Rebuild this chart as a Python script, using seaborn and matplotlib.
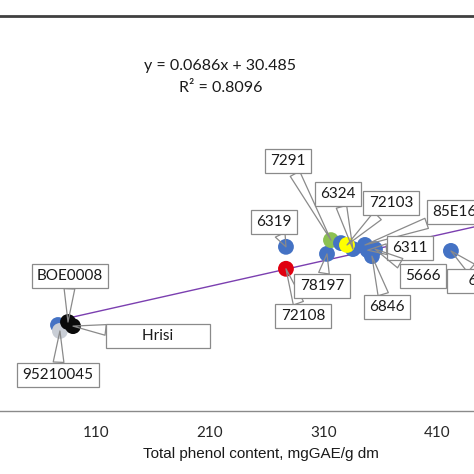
import matplotlib
matplotlib.use("Agg")
import matplotlib.pyplot as plt
import seaborn as sns
import pandas as pd
import numpy as np

# ---- data ----
names = ["", "95210045", "BOE0008", "Hrisi", "6319", "72108", "78197", "7291", "",
         "6324", "72103", "85E164", "6311", "5666", "6846", "6316"]
phenol = [76.6, 78.3, 85.4, 89.8, 277.1, 277.1, 313.2, 316.7, 325.5,
          336.0, 330.8, 346.6, 349.0, 355.4, 352.7, 422.2]
yvals = [34.5, 32.9, 35.3, 34.2, 55.5, 49.6, 53.6, 57.3, 56.5,
         54.9, 56.0, 56.0, 54.6, 54.9, 53.0, 54.4]
groups = ["blue", "grey", "black", "black", "blue", "red", "blue", "green", "blue",
          "blue", "yellow", "blue", "blue", "blue", "blue", "blue"]
slope, intercept = 0.0686, 30.485
r2 = 0.8096
xticks = [110, 210, 310, 410]

palette = {"blue": "#4472C4", "grey": "#C9CED6", "black": "#0A0A0A",
           "red": "#E00010", "green": "#8CC152", "yellow": "#FFFF00"}

# label box centres in figure pixels (x from left, y from top)
label_pos = {
    "95210045": (58, 375), "BOE0008": (70, 276), "Hrisi": (158, 336),
    "6319": (274, 222), "72108": (303, 316), "7291": (288, 161),
    "6324": (338, 194), "72103": (391, 203), "85E164": (459, 212),
    "6311": (410, 248), "5666": (423, 276), "6846": (387, 307),
    "78197": (322, 286), "6316": (486, 281),
}
padded = {"Hrisi": 8, "6316": 4}

df = pd.DataFrame({"name": names, "x": phenol, "y": yvals, "group": groups})

sns.set_style("white")
plt.rcParams["font.family"] = ["Lato", "DejaVu Sans"]

W = H = 474
fig = plt.figure(figsize=(W / 100, H / 100), dpi=100)
ax_bottom, ax_top = 411, 16
ax = fig.add_axes([0, 1 - ax_bottom / H, 1, (ax_bottom - ax_top) / H])

# trendline
lx = np.array([min(phenol), 520])
ax.plot(lx, slope * lx + intercept, color="#7B3FB0", lw=1.0, zorder=1)

sns.scatterplot(data=df, x="x", y="y", hue="group", palette=palette,
                legend=False, s=130, linewidth=0, ax=ax, zorder=2)

for n, xv, yv in zip(names, phenol, yvals):
    if not n:
        continue
    px, py = label_pos[n]
    sp = " " * padded.get(n, 0)
    txt = sp + n + sp
    ax.annotate(txt, xy=(xv, yv), xycoords="data",
                xytext=(px, H - py), textcoords="figure pixels",
                ha="center", va="center", fontsize=11, color="#1a1a1a",
                bbox=dict(boxstyle="square,pad=0.35", fc="white", ec="#8a8a8a", lw=0.9),
                arrowprops=dict(arrowstyle="wedge,tail_width=0.7,shrink_factor=0.5",
                                fc="none", ec="#8a8a8a", lw=0.9,
                                shrinkA=0, shrinkB=0),
                annotation_clip=False, zorder=4)

ax.set_xlim(25.6, 442.5)
ax.set_ylim(11.4, 117.5)
ax.set_xticks(xticks)
ax.set_xticklabels([str(t) for t in xticks])
ax.set_yticks([])
ax.tick_params(axis="x", direction="out", length=3, width=0.8, color="#8a8a8a",
               pad=8, labelsize=11, labelcolor="#262626")
for s in ["left", "right"]:
    ax.spines[s].set_visible(False)
ax.spines["top"].set_color("#404040")
ax.spines["top"].set_linewidth(2.0)
ax.spines["bottom"].set_color("#8a8a8a")
ax.spines["bottom"].set_linewidth(1.0)
ax.set_ylabel("")
ax.set_xlabel("")
ax.text(261 / W, (ax_bottom - 454) / (ax_bottom - ax_top),
        "Total phenol content, mgGAE/g dm", transform=ax.transAxes,
        ha="center", va="center", fontsize=11, family=["Liberation Sans", "DejaVu Sans"],
        color="#1a1a1a")

ax.text(220 / W, (ax_bottom - 66) / (ax_bottom - ax_top),
        f"y = {slope}x + {intercept}", transform=ax.transAxes,
        ha="center", va="center", fontsize=11.5, color="#1a1a1a")
ax.text(221 / W, (ax_bottom - 88) / (ax_bottom - ax_top),
        f"R² = {r2}", transform=ax.transAxes,
        ha="center", va="center", fontsize=11.5, color="#1a1a1a")

fig.savefig("out.png", dpi=100)
